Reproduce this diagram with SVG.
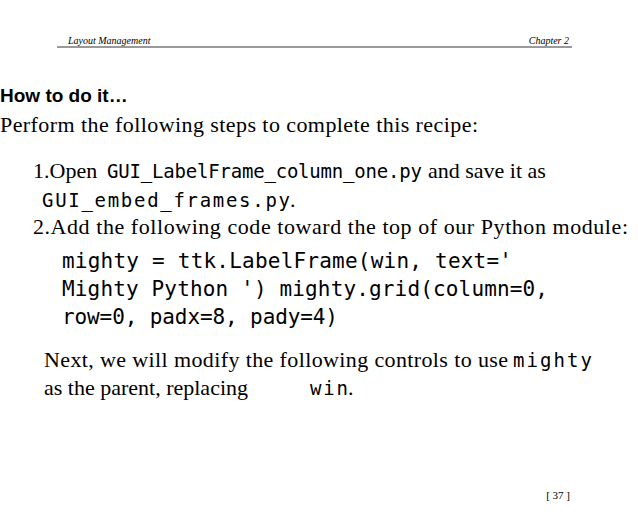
<svg xmlns="http://www.w3.org/2000/svg" width="638" height="517" viewBox="0 0 638 517">
<style>
.s{font-family:"Liberation Serif",serif;font-size:22px;fill:#000}
.m{font-family:"DejaVu Sans Mono",monospace;fill:#000}
.h{font-family:"Liberation Serif",serif;font-style:italic;font-size:10px;fill:#000}
</style>
<rect width="638" height="517" fill="#fff"/>
<g id="header">
<text class="h" x="68" y="44">Layout Management</text>
<text class="h" x="569" y="44" text-anchor="end">Chapter 2</text>
<line x1="57" y1="47" x2="572" y2="47" stroke="#000" stroke-width="0.8"/>
</g>
<g id="body">
<text x="0" y="102" font-family="Liberation Sans,sans-serif" font-weight="bold" font-size="19">How to do it…</text>
<text class="s" x="0" y="132" textLength="478">Perform the following steps to complete this recipe:</text>
<text class="s" x="33" y="178">1.Open</text>
<text class="m" font-size="19" x="107" y="178" textLength="315">GUI_LabelFrame_column_one.py</text>
<text class="s" x="428" y="178">and save it as</text>
<text class="m" font-size="19" x="42" y="207" textLength="248">GUI_embed_frames.py</text><text class="s" x="290" y="207">.</text>
<text class="s" x="33" y="234" textLength="595">2.Add the following code toward the top of our Python module:</text>
<text class="m" font-size="21" x="62" y="268" textLength="450">mighty = ttk.LabelFrame(win, text='</text>
<text class="m" font-size="21" x="62" y="296" textLength="486">Mighty Python ')  mighty.grid(column=0,</text>
<text class="m" font-size="21" x="62" y="324" textLength="276">row=0, padx=8, pady=4)</text>
<text class="s" x="44" y="367" textLength="464">Next, we will modify the following controls to use</text>
<text class="m" font-size="19" x="513" y="367" textLength="79">mighty</text>
<text class="s" x="44" y="395">as the parent,  replacing</text>
<text class="m" font-size="19" x="310" y="395" textLength="38">win</text><text class="s" x="348" y="395">.</text>
<text x="570" y="499" text-anchor="end" font-family="Liberation Serif,serif" font-size="11">[ 37 ]</text>
</g>
</svg>
